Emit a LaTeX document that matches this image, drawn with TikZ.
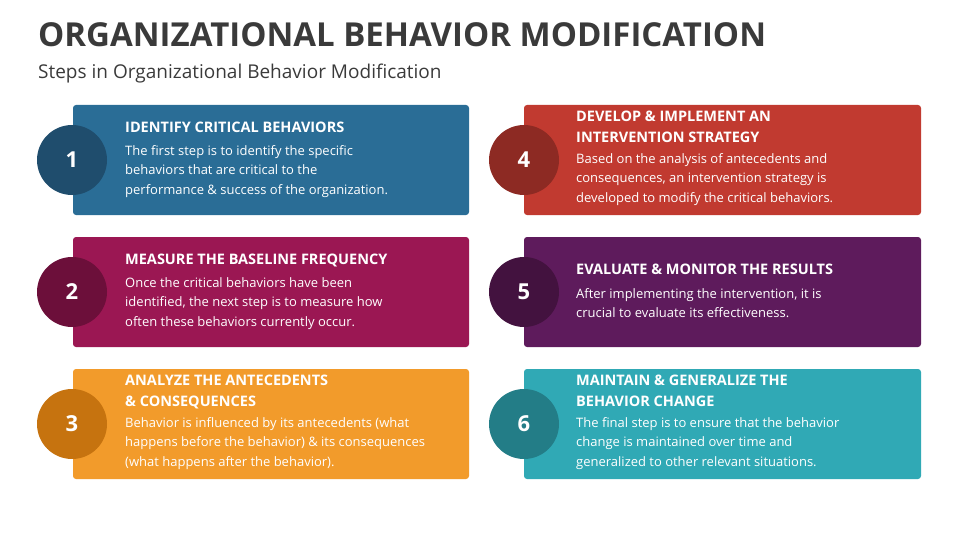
\documentclass[tikz,border=0pt]{standalone}
\usepackage{fontspec}
\setmainfont{Open Sans}
\definecolor{bA}{HTML}{2A6D96}\definecolor{cA}{HTML}{1F4D6D}
\definecolor{bB}{HTML}{9B1753}\definecolor{cB}{HTML}{6C0F3A}
\definecolor{bC}{HTML}{F29B2B}\definecolor{cC}{HTML}{C6730F}
\definecolor{bD}{HTML}{C13A30}\definecolor{cD}{HTML}{8D2A23}
\definecolor{bE}{HTML}{5E1B5C}\definecolor{cE}{HTML}{43123F}
\definecolor{bF}{HTML}{30A9B5}\definecolor{cF}{HTML}{237D87}
\definecolor{ttl}{HTML}{3A3A3A}
\tikzset{
 card/.style={rounded corners=3pt},
 num/.style={circle,minimum size=70pt,inner sep=0pt,text=white,font=\bfseries\fontsize{22}{22}\selectfont},
 head/.style={anchor=north west,text=white,align=left,inner sep=0pt,font=\bfseries\fontsize{14.5}{21}\selectfont},
 body/.style={anchor=north west,text=white,align=left,inner sep=0pt,font=\fontsize{13}{19.5}\selectfont},
}
\begin{document}
\begin{tikzpicture}[x=1pt,y=-1pt]
\useasboundingbox (0,0) rectangle (960,540);
\node[anchor=west,inner sep=0pt,text=ttl,font=\bfseries\fontsize{33}{33}\selectfont] (t) at (38,35) {ORGANIZATIONAL BEHAVIOR MODIFICATION};
\node[anchor=west,inner sep=0pt,text=ttl,font=\fontsize{19}{19}\selectfont] (s) at (38,74) {Steps in Organizational Behavior Modification};
% cards
\fill[card,bA] (73,105) rectangle (469,215);
\fill[card,bB] (73,237) rectangle (469,347);
\fill[card,bC] (73,369) rectangle (469,479);
\fill[card,bD] (524,105) rectangle (921,215);
\fill[card,bE] (524,237) rectangle (921,347);
\fill[card,bF] (524,369) rectangle (921,479);
\node[num,fill=cA] (n1) at (72,160) {1};
\node[num,fill=cB] (n2) at (72,292) {2};
\node[num,fill=cC] (n3) at (72,424) {3};
\node[num,fill=cD] (n4) at (524,160) {4};
\node[num,fill=cE] (n5) at (524,292) {5};
\node[num,fill=cF] (n6) at (524,424) {6};
% texts
\node[head] (h1) at (125,122) {IDENTIFY CRITICAL BEHAVIORS};
\node[body] (b1) at (125,145) {The first step is to identify the specific\\behaviors that are critical to the\\performance \& success of the organization.};
\node[head] (h2) at (125,254) {MEASURE THE BASELINE FREQUENCY};
\node[body] (b2) at (125,277) {Once the critical behaviors have been\\identified, the next step is to measure how\\often these behaviors currently occur.};
\node[head] (h3) at (125,375) {ANALYZE THE ANTECEDENTS\\\& CONSEQUENCES};
\node[body] (b3) at (125,417) {Behavior is influenced by its antecedents (what\\happens before the behavior) \& its consequences\\(what happens after the behavior).};
\node[head] (h4) at (576,111) {DEVELOP \& IMPLEMENT AN\\INTERVENTION STRATEGY};
\node[body] (b4) at (576,153) {Based on the analysis of antecedents and\\consequences, an intervention strategy is\\developed to modify the critical behaviors.};
\node[head] (h5) at (576,264) {EVALUATE \& MONITOR THE RESULTS};
\node[body] (b5) at (576,288) {After implementing the intervention, it is\\crucial to evaluate its effectiveness.};
\node[head] (h6) at (576,375) {MAINTAIN \& GENERALIZE THE\\BEHAVIOR CHANGE};
\node[body] (b6) at (576,417) {The final step is to ensure that the behavior\\change is maintained over time and\\generalized to other relevant situations.};
\end{tikzpicture}
\end{document}
